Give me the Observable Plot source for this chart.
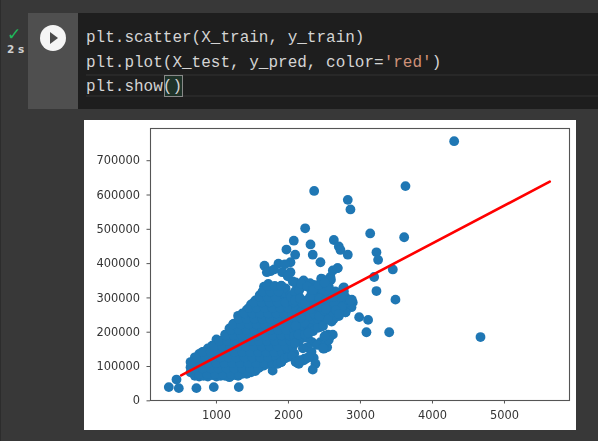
<!DOCTYPE html>
<html><head><meta charset="utf-8">
<script src="https://cdn.jsdelivr.net/npm/d3@7"></script>
<script src="https://cdn.jsdelivr.net/npm/@observablehq/plot@0.6"></script>
<style>
html,body{margin:0;padding:0;width:598px;height:441px;overflow:hidden;background:#383838}
#page{position:relative;width:598px;height:441px;overflow:hidden;background:#383838}
.abs{position:absolute}
#edge{left:0;top:0;width:1px;height:441px;background:#2c2c2c}
#gutter{left:28px;top:13px;width:50px;height:96px;background:#4f4f4f}
#code{left:78px;top:13px;width:520px;height:96px;background:#1e1e1e}
#active{left:86px;top:74px;width:512px;height:23px;box-sizing:border-box;border-top:2px solid #282828;border-bottom:2px solid #282828}
#bracket{left:164px;top:75px;width:19px;height:22px;box-sizing:border-box;border:1px solid #888;background:#1f3329}
.ln{left:86px;font:16px/24px "Liberation Mono",monospace;color:#d4d4d4;white-space:pre}
.str{color:#ce9178}
#btn{left:40px;top:25px;width:26px;height:26px;border-radius:50%;background:#f5f5f5}
#tri{left:50px;top:32px;width:0;height:0;border-left:8px solid #4a4a4a;border-top:6px solid transparent;border-bottom:6px solid transparent}
#check{left:7px;top:26px;color:#1fb85c;font:bold 17px "DejaVu Sans",sans-serif;line-height:17px}
#secs{left:7px;top:43px;color:#d0d0d0;font:bold 10.5px "DejaVu Sans",sans-serif;letter-spacing:0}
#chart{left:84px;top:120px;width:492px;height:310px;background:#fff}
#chart svg{display:block;filter:blur(.35px)}
</style></head><body>
<div id="page">
<div class="abs" id="edge"></div>
<div class="abs" id="gutter"></div>
<div class="abs" id="code"></div>
<div class="abs" id="active"></div>
<div class="abs" id="bracket"></div>
<div class="abs ln" style="top:26px">plt.scatter(X_train, y_train)</div>
<div class="abs ln" style="top:51px">plt.plot(X_test, y_pred, color=<span class="str">'red'</span>)</div>
<div class="abs ln" style="top:75px">plt.show()</div>
<div class="abs" id="btn"></div>
<div class="abs" id="tri"></div>
<div class="abs" id="check">✓</div>
<div class="abs" id="secs">2 s</div>
<div class="abs" id="chart"></div>
</div>
<script>
const xTicks = [1000, 2000, 3000, 4000, 5000];
const yTicks = [0, 100000, 200000, 300000, 400000, 500000, 600000, 700000];
const lineX = [510, 5629];
const lineY = [71000, 636000];

// Scattered points read one by one
const looseX = [338,445,477,722,963,1310,4301,3625,2357,2824,2861,2232,3135,3607,2630,2306,2699,2722,2337,2824,3222,3245,2444,3449,3190,3222,3486,2982,3106,3083,3399,4667,2685,2616,2583,2454,2760,2792,2893,2875,2792,2616,2653,2616,2551,2444,2537,2490,2329,2260,2351,2375,2337,2250,2167,2204,2260,2130,2222,2074,1972,2093,1667,1750,1861,2028,2028,1912,1700,1800,1950,1990];
const looseY = [37,59,34,34,37,37,754,623,609,583,555,500,485,474,466,453,447,437,423,423,430,408,401,380,358,317,292,241,233,197,197,183,384,377,358,353,325,299,284,270,255,236,255,190,190,165,153,149,168,153,122,105,88,120,115,181,197,107,120,464,438,423,391,375,397,401,372,372,372,380,395,360];

// Dense band, column by column
const bandX = [640,700,760,820,880,940,1000,1060,1120,1180,1240,1300,1360,1420,1480,1540,1600,1660,1720,1780,1840,1900,1960,2020];
const bandY = [
 [80,95,110],
 [70,85,100,115,124],
 [68,82,96,110,124,134],
 [70,84,98,112,126,140],
 [68,86,104,122,138,150],
 [72,88,106,120,140,158],
 [68,84,102,118,136,154,176],
 [70,90,110,128,146,160,172],
 [70,88,108,126,144,164,190],
 [66,86,106,124,146,168,190,208],
 [72,92,112,132,150,172,196,222],
 [70,88,108,130,152,176,200,224,245],
 [76,96,118,140,162,184,208,232,252],
 [78,100,122,146,170,192,216,240,262],
 [80,102,126,150,174,200,226,252,278],
 [84,108,134,158,184,208,236,262,290],
 [95,118,142,168,194,222,248,276,305],
 [100,124,150,176,202,230,256,284,310,330],
 [105,130,158,186,214,242,270,298,322,338],
 [85,110,136,164,192,220,248,274,300,320],
 [112,140,168,196,224,252,280,300,320],
 [110,128,156,184,212,240,268,296,333],
 [125,150,180,208,236,262,290,310,325],
 [130,160,190,218,246,276,305]
];

// Dense band again, row by row, so no stripes stay open
const rowY = [76,92,108,124,140,156,172,188,204,212,220,228,236,244,252,260,268,276,284,292,300,316,332];
const rowX = [
 [760,870,980,1090,1200,1310,1420],
 [700,810,920,1030,1140,1250,1360,1470,1580],
 [670,780,890,1000,1110,1220,1330,1440,1550,1660,1770],
 [730,840,950,1060,1170,1280,1390,1500,1610,1720,1830],
 [810,920,1030,1140,1250,1360,1470,1580,1690,1800,1910,2000],
 [970,1080,1190,1300,1410,1520,1630,1740,1850,1960,2060],
 [1040,1150,1260,1370,1480,1590,1700,1810,1920,2030,2110],
 [1130,1240,1350,1460,1570,1680,1790,1900,2010,2120],
 [1200,1310,1420,1530,1640,1750,1860,1970,2080,2190],
 [2240,2340,2440],
 [1230,1340,1450,1560,1670,1780,1890,2000,2110,2220,2330],
 [2380,2490,2600],
 [1310,1420,1530,1640,1750,1860,1970,2080,2190,2300,2410,2520],
 [2480,2590,2700],
 [1390,1500,1610,1720,1830,1940,2050,2160,2270,2380,2490,2600],
 [2560,2680,2790],
 [1450,1560,1670,1780,1890,2000,2110,2220,2330,2440,2550,2660,2750],
 [2690,2780,2860],
 [1520,1630,1740,1850,1960,2070,2180,2290,2400,2510,2620,2730,2810],
 [2800,2880],
 [1600,1710,1820,2040,2150,2310,2420,2530,2640,2750],
 [1640,1750,1860,2090,2320,2430,2540,2650,2770],
 [1710,1810,1900,2120,2220,2340,2440,2540]
];

// Right hand part of the cloud
const rightX = [2100,2210,2350,2470,2540,2680,2590,2300,2400,2480,2560,2150,2250,2350,2430,2520,2590,2769,2861,2792,2630,2583,2514,2320,2444,2467,2213,2144,2080,2140,2200,2270,2340,2410,2480,2550,2620,2700,2080,2150,2220,2290,2360,2430,2500,2570,2640,2100,2170,2240,2310,2380,2450,2520,2090,2160,2230,2300,2100,2170,2090,2140,2060,2680,2720,2740,2660,2700,2560,2620,2180,2260,2340,2420,2500,1850,1900,1950,2000,2050,2100,2150,2280,2400,2480,2560,2500,2230,2280];
const rightY = [342,348,335,352,325,384,350,340,330,320,310,320,290,305,295,290,295,328,290,255,236,187,187,140,168,158,115,105,135,170,150,180,200,210,215,235,255,275,185,205,225,245,250,245,260,270,280,240,255,275,265,275,270,265,290,295,280,300,215,240,165,190,345,305,300,270,262,250,330,300,338,330,320,335,342,105,110,120,125,128,110,115,125,160,150,175,185,190,195];

const k = 1000;
const points = [
  ...looseX.map((x, i) => ({x, y: looseY[i] * k})),
  ...bandX.flatMap((x, i) => bandY[i].map(y => ({x, y: y * k}))),
  ...rowY.flatMap((y, i) => rowX[i].map(x => ({x, y: y * k}))),
  ...rightX.map((x, i) => ({x, y: rightY[i] * k}))
];
const fit = lineX.map((x, i) => ({x, y: lineY[i]}));

const chart = Plot.plot({
  width: 492, height: 310,
  marginLeft: 66, marginRight: 7, marginTop: 8, marginBottom: 30,
  style: {background: "#fff", color: "#333", fontFamily: "DejaVu Sans", overflow: "visible"},
  x: {domain: [84, 5903], label: null},
  y: {domain: [-2000, 791000], label: null},
  marks: [
    Plot.axisX({ticks: xTicks, tickSize: 3.5, tickPadding: 7, fontSize: 11.4, label: null, tickFormat: d => String(d), stroke: "#555"}),
    Plot.axisY({ticks: yTicks, tickSize: 3.5, tickPadding: 7, fontSize: 11.4, label: null, tickFormat: d => String(d), stroke: "#555", dy: 1}),
    Plot.dot(points, {x: "x", y: "y", r: 4.9, fill: "#1f77b4"}),
    Plot.line(fit, {x: "x", y: "y", stroke: "red", strokeWidth: 2.6}),
    Plot.frame({stroke: "#555", strokeWidth: 1.1})
  ]
});
document.getElementById("chart").appendChild(chart);
</script>
</body></html>
